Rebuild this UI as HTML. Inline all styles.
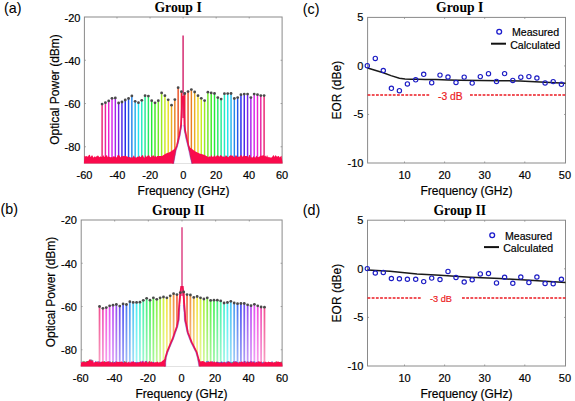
<!DOCTYPE html>
<html><head><meta charset="utf-8"><style>html,body{margin:0;padding:0;background:#fff;width:575px;height:401px;overflow:hidden}svg{display:block}</style></head>
<body><svg width="575" height="401" viewBox="0 0 575 401">
<rect width="575" height="401" fill="#fff"/>
<defs><linearGradient id="gb" x1="0" y1="0" x2="0" y2="1"><stop offset="0" stop-color="#fff" stop-opacity="0.05"/><stop offset="0.5" stop-color="#fff" stop-opacity="0.3"/><stop offset="1" stop-color="#fff" stop-opacity="0.55"/></linearGradient></defs>
<rect x="84.4" y="17" width="197.70000000000002" height="146" fill="none" stroke="#8a8a8a" stroke-width="1"/>
<line x1="116.97999999999999" y1="163" x2="116.97999999999999" y2="161.5" stroke="#8a8a8a" stroke-width="0.8"/>
<line x1="116.97999999999999" y1="17" x2="116.97999999999999" y2="18.5" stroke="#8a8a8a" stroke-width="0.8"/>
<line x1="150.04" y1="163" x2="150.04" y2="161.5" stroke="#8a8a8a" stroke-width="0.8"/>
<line x1="150.04" y1="17" x2="150.04" y2="18.5" stroke="#8a8a8a" stroke-width="0.8"/>
<line x1="183.1" y1="163" x2="183.1" y2="161.5" stroke="#8a8a8a" stroke-width="0.8"/>
<line x1="183.1" y1="17" x2="183.1" y2="18.5" stroke="#8a8a8a" stroke-width="0.8"/>
<line x1="216.16" y1="163" x2="216.16" y2="161.5" stroke="#8a8a8a" stroke-width="0.8"/>
<line x1="216.16" y1="17" x2="216.16" y2="18.5" stroke="#8a8a8a" stroke-width="0.8"/>
<line x1="249.22" y1="163" x2="249.22" y2="161.5" stroke="#8a8a8a" stroke-width="0.8"/>
<line x1="249.22" y1="17" x2="249.22" y2="18.5" stroke="#8a8a8a" stroke-width="0.8"/>
<line x1="84.4" y1="60.26" x2="85.9" y2="60.26" stroke="#8a8a8a" stroke-width="0.8"/>
<line x1="282.1" y1="60.26" x2="280.6" y2="60.26" stroke="#8a8a8a" stroke-width="0.8"/>
<line x1="84.4" y1="103.52" x2="85.9" y2="103.52" stroke="#8a8a8a" stroke-width="0.8"/>
<line x1="282.1" y1="103.52" x2="280.6" y2="103.52" stroke="#8a8a8a" stroke-width="0.8"/>
<line x1="84.4" y1="146.78" x2="85.9" y2="146.78" stroke="#8a8a8a" stroke-width="0.8"/>
<line x1="282.1" y1="146.78" x2="280.6" y2="146.78" stroke="#8a8a8a" stroke-width="0.8"/>
<line x1="102.10" y1="104.10" x2="102.10" y2="162.00" stroke="#ea2372" stroke-width="1.45"/>
<line x1="105.41" y1="102.70" x2="105.41" y2="162.00" stroke="#ea23a1" stroke-width="1.45"/>
<line x1="108.71" y1="100.90" x2="108.71" y2="162.00" stroke="#ea23d0" stroke-width="1.45"/>
<line x1="112.02" y1="98.30" x2="112.02" y2="162.00" stroke="#d623ea" stroke-width="1.45"/>
<line x1="115.33" y1="97.90" x2="115.33" y2="162.00" stroke="#a823ea" stroke-width="1.45"/>
<line x1="118.63" y1="103.00" x2="118.63" y2="162.00" stroke="#7923ea" stroke-width="1.45"/>
<line x1="121.94" y1="102.00" x2="121.94" y2="162.00" stroke="#4b23ea" stroke-width="1.45"/>
<line x1="125.24" y1="100.00" x2="125.24" y2="162.00" stroke="#2329ea" stroke-width="1.45"/>
<line x1="128.55" y1="98.50" x2="128.55" y2="162.00" stroke="#2358ea" stroke-width="1.45"/>
<line x1="131.86" y1="95.90" x2="131.86" y2="162.00" stroke="#2386ea" stroke-width="1.45"/>
<line x1="135.16" y1="101.30" x2="135.16" y2="162.00" stroke="#23b5ea" stroke-width="1.45"/>
<line x1="138.47" y1="102.70" x2="138.47" y2="162.00" stroke="#23e3ea" stroke-width="1.45"/>
<line x1="141.77" y1="100.30" x2="141.77" y2="162.00" stroke="#23eac2" stroke-width="1.45"/>
<line x1="145.08" y1="95.70" x2="145.08" y2="162.00" stroke="#23ea94" stroke-width="1.45"/>
<line x1="148.39" y1="96.10" x2="148.39" y2="162.00" stroke="#23ea65" stroke-width="1.45"/>
<line x1="151.69" y1="100.70" x2="151.69" y2="162.00" stroke="#23ea37" stroke-width="1.45"/>
<line x1="155.00" y1="102.80" x2="155.00" y2="162.00" stroke="#3dea23" stroke-width="1.45"/>
<line x1="158.31" y1="100.70" x2="158.31" y2="162.00" stroke="#6cea23" stroke-width="1.45"/>
<line x1="161.61" y1="92.90" x2="161.61" y2="162.00" stroke="#9aea23" stroke-width="1.45"/>
<line x1="164.92" y1="95.70" x2="164.92" y2="162.00" stroke="#c9ea23" stroke-width="1.45"/>
<line x1="168.22" y1="99.80" x2="168.22" y2="162.00" stroke="#eadd23" stroke-width="1.45"/>
<line x1="171.53" y1="105.20" x2="171.53" y2="162.00" stroke="#eaae23" stroke-width="1.45"/>
<line x1="174.83" y1="99.60" x2="174.83" y2="162.00" stroke="#ea8023" stroke-width="1.45"/>
<line x1="178.14" y1="87.70" x2="178.14" y2="162.00" stroke="#ea5123" stroke-width="1.45"/>
<line x1="181.45" y1="91.70" x2="181.45" y2="162.00" stroke="#ea2323" stroke-width="1.45"/>
<line x1="184.75" y1="93.50" x2="184.75" y2="162.00" stroke="#ea2323" stroke-width="1.45"/>
<line x1="188.06" y1="91.60" x2="188.06" y2="162.00" stroke="#ea5123" stroke-width="1.45"/>
<line x1="191.37" y1="89.60" x2="191.37" y2="162.00" stroke="#ea8023" stroke-width="1.45"/>
<line x1="194.67" y1="92.00" x2="194.67" y2="162.00" stroke="#eaae23" stroke-width="1.45"/>
<line x1="197.98" y1="95.70" x2="197.98" y2="162.00" stroke="#eadd23" stroke-width="1.45"/>
<line x1="201.28" y1="98.30" x2="201.28" y2="162.00" stroke="#c9ea23" stroke-width="1.45"/>
<line x1="204.59" y1="100.60" x2="204.59" y2="162.00" stroke="#9aea23" stroke-width="1.45"/>
<line x1="207.89" y1="92.20" x2="207.89" y2="162.00" stroke="#6cea23" stroke-width="1.45"/>
<line x1="211.20" y1="92.90" x2="211.20" y2="162.00" stroke="#3dea23" stroke-width="1.45"/>
<line x1="214.51" y1="93.50" x2="214.51" y2="162.00" stroke="#23ea37" stroke-width="1.45"/>
<line x1="217.81" y1="97.60" x2="217.81" y2="162.00" stroke="#23ea65" stroke-width="1.45"/>
<line x1="221.12" y1="99.10" x2="221.12" y2="162.00" stroke="#23ea94" stroke-width="1.45"/>
<line x1="224.43" y1="93.70" x2="224.43" y2="162.00" stroke="#23eac2" stroke-width="1.45"/>
<line x1="227.73" y1="93.60" x2="227.73" y2="162.00" stroke="#23e3ea" stroke-width="1.45"/>
<line x1="231.04" y1="93.50" x2="231.04" y2="162.00" stroke="#23b5ea" stroke-width="1.45"/>
<line x1="234.34" y1="98.50" x2="234.34" y2="162.00" stroke="#2386ea" stroke-width="1.45"/>
<line x1="237.65" y1="97.60" x2="237.65" y2="162.00" stroke="#2358ea" stroke-width="1.45"/>
<line x1="240.95" y1="94.70" x2="240.95" y2="162.00" stroke="#2329ea" stroke-width="1.45"/>
<line x1="244.26" y1="94.10" x2="244.26" y2="162.00" stroke="#4b23ea" stroke-width="1.45"/>
<line x1="247.57" y1="94.10" x2="247.57" y2="162.00" stroke="#7923ea" stroke-width="1.45"/>
<line x1="250.87" y1="97.60" x2="250.87" y2="162.00" stroke="#a823ea" stroke-width="1.45"/>
<line x1="254.18" y1="94.10" x2="254.18" y2="162.00" stroke="#d623ea" stroke-width="1.45"/>
<line x1="257.49" y1="94.70" x2="257.49" y2="162.00" stroke="#ea23d0" stroke-width="1.45"/>
<line x1="260.79" y1="95.60" x2="260.79" y2="162.00" stroke="#ea23a1" stroke-width="1.45"/>
<line x1="264.10" y1="95.60" x2="264.10" y2="162.00" stroke="#ea2372" stroke-width="1.45"/>
<polygon points="83.9,163.6 84.4,155.5 85.3,156.4 86.2,155.9 87.1,156.5 88.0,156.6 88.9,155.0 89.8,154.8 90.7,157.2 91.6,155.5 92.5,155.5 93.4,157.7 94.3,156.2 95.2,157.2 96.1,156.2 97.0,156.6 97.9,155.2 98.8,156.6 99.7,157.3 100.6,156.3 101.5,156.9 102.4,156.7 103.3,155.0 104.2,157.0 105.1,156.5 106.0,155.7 106.9,154.9 107.8,157.3 108.7,156.2 109.6,156.9 110.5,157.3 111.4,156.9 112.3,157.5 113.2,155.9 114.1,157.1 115.0,156.1 115.9,157.5 116.8,157.3 117.7,155.1 118.6,155.2 119.5,155.4 120.4,157.6 121.3,156.1 122.2,156.6 123.1,155.7 124.0,156.3 124.9,155.9 125.8,155.8 126.7,156.5 127.6,156.5 128.5,157.4 129.4,156.8 130.3,157.5 131.2,157.3 132.1,157.7 133.0,156.7 133.9,155.3 134.8,157.3 135.7,157.6 136.6,157.4 137.5,156.4 138.4,156.9 139.3,155.4 140.2,157.2 141.1,156.5 142.0,155.6 142.9,155.0 143.8,157.3 144.7,157.7 145.6,155.1 146.5,157.1 147.4,156.0 148.3,155.2 149.2,155.6 150.1,157.0 151.0,157.3 151.9,154.9 152.8,156.6 153.7,154.9 154.6,156.9 155.5,155.8 156.4,157.3 157.0,156.1 162.0,155.9 166.0,153.6 170.0,152.1 173.0,150.0 175.3,148.2 176.9,145.5 176.9,145.4 175.3,150.6 174.3,155.7 173.3,160.8 173.0,163.6 173.0,163.6" fill="#fa0a4c"/>
<polygon points="282.6,163.6 281.5,155.8 280.6,156.6 279.7,157.5 278.8,156.0 277.9,156.3 277.0,156.7 276.1,155.7 275.2,155.3 274.3,156.9 273.4,154.8 272.5,156.5 271.6,157.4 270.7,157.4 269.8,157.5 268.9,156.8 268.0,157.4 267.1,154.9 266.2,157.1 265.3,155.6 264.4,156.5 263.5,155.0 262.6,155.5 261.7,155.8 260.8,155.6 259.9,156.3 259.0,156.7 258.1,157.2 257.2,156.9 256.3,155.4 255.4,157.5 254.5,157.5 253.6,156.1 252.7,157.6 251.8,157.3 250.9,157.5 250.0,154.8 249.1,155.2 248.2,157.5 247.3,156.0 246.4,156.0 245.5,156.0 244.6,155.8 243.7,155.6 242.8,157.1 241.9,155.6 241.0,155.2 240.1,155.8 239.2,157.1 238.3,156.6 237.4,157.1 236.5,155.6 235.6,155.3 234.7,157.2 233.8,157.1 232.9,155.3 232.0,156.3 231.1,155.1 230.2,155.4 229.3,156.1 228.4,157.3 227.5,156.7 226.6,155.8 225.7,155.3 224.8,157.3 223.9,156.1 223.0,157.2 222.1,155.8 221.2,155.7 220.3,155.1 219.4,156.8 218.5,156.1 217.6,155.3 216.7,155.5 215.8,157.1 214.9,155.4 214.0,155.7 213.1,156.9 212.2,156.4 211.3,154.9 210.4,157.0 209.5,155.9 209.0,157.2 204.0,154.7 199.5,153.6 195.0,151.3 192.0,149.1 190.0,147.6 188.4,144.4 188.4,145.4 189.7,150.6 190.7,155.7 191.9,160.8 192.5,163.6 192.5,163.6" fill="#fa0a4c"/>
<polygon points="183.2,96.0 182.8,108.0 182.2,118.0 181.8,125.0 181.0,130.1 180.2,135.2 179.0,140.3 177.8,145.4 176.2,150.6 175.2,155.7 174.2,160.8 173.8,163.6 191.7,163.6 191.1,160.8 189.8,155.7 188.8,150.6 187.6,145.4 186.2,140.3 185.2,135.2 184.2,130.1 183.7,125.0 183.5,118.0 183.2,108.0 182.8,96.0" fill="#ffffff"/>
<line x1="183.10" y1="35.4" x2="183.10" y2="118" stroke="#d8387a" stroke-width="1.6"/>
<polyline points="182.4,96.0 181.9,108.0 181.4,118.0 181.0,125.0 180.2,130.1 179.4,135.2 178.2,140.3 176.9,145.4 175.3,150.6 174.3,155.7 173.3,160.8 173.0,163.6" fill="none" stroke="#f01050" stroke-width="1.7" stroke-linejoin="round"/>
<polyline points="183.6,96.0 184.0,108.0 184.3,118.0 184.5,125.0 185.1,130.1 186.1,135.2 187.1,140.3 188.4,145.4 189.7,150.6 190.7,155.7 191.9,160.8 192.5,163.6" fill="none" stroke="#f01050" stroke-width="1.7" stroke-linejoin="round"/>
<polyline points="181.8,125.0 181.0,130.1 180.2,135.2 179.0,140.3 177.8,145.4 176.2,150.6 175.2,155.7 174.2,160.8 173.8,163.6" fill="none" stroke="#4a48d8" stroke-width="0.6" opacity="0.6"/>
<polyline points="183.7,125.0 184.2,130.1 185.2,135.2 186.2,140.3 187.6,145.4 188.8,150.6 189.8,155.7 191.1,160.8 191.7,163.6" fill="none" stroke="#4a48d8" stroke-width="0.6" opacity="0.6"/>
<circle cx="102.10" cy="104.10" r="1.4" fill="#4a4a4a"/>
<circle cx="105.41" cy="102.70" r="1.4" fill="#4a4a4a"/>
<circle cx="108.71" cy="100.90" r="1.4" fill="#4a4a4a"/>
<circle cx="112.02" cy="98.30" r="1.4" fill="#4a4a4a"/>
<circle cx="115.33" cy="97.90" r="1.4" fill="#4a4a4a"/>
<circle cx="118.63" cy="103.00" r="1.4" fill="#4a4a4a"/>
<circle cx="121.94" cy="102.00" r="1.4" fill="#4a4a4a"/>
<circle cx="125.24" cy="100.00" r="1.4" fill="#4a4a4a"/>
<circle cx="128.55" cy="98.50" r="1.4" fill="#4a4a4a"/>
<circle cx="131.86" cy="95.90" r="1.4" fill="#4a4a4a"/>
<circle cx="135.16" cy="101.30" r="1.4" fill="#4a4a4a"/>
<circle cx="138.47" cy="102.70" r="1.4" fill="#4a4a4a"/>
<circle cx="141.77" cy="100.30" r="1.4" fill="#4a4a4a"/>
<circle cx="145.08" cy="95.70" r="1.4" fill="#4a4a4a"/>
<circle cx="148.39" cy="96.10" r="1.4" fill="#4a4a4a"/>
<circle cx="151.69" cy="100.70" r="1.4" fill="#4a4a4a"/>
<circle cx="155.00" cy="102.80" r="1.4" fill="#4a4a4a"/>
<circle cx="158.31" cy="100.70" r="1.4" fill="#4a4a4a"/>
<circle cx="161.61" cy="92.90" r="1.4" fill="#4a4a4a"/>
<circle cx="164.92" cy="95.70" r="1.4" fill="#4a4a4a"/>
<circle cx="168.22" cy="99.80" r="1.4" fill="#4a4a4a"/>
<circle cx="171.53" cy="105.20" r="1.4" fill="#4a4a4a"/>
<circle cx="174.83" cy="99.60" r="1.4" fill="#4a4a4a"/>
<circle cx="178.14" cy="87.70" r="1.4" fill="#4a4a4a"/>
<circle cx="181.45" cy="91.70" r="1.4" fill="#4a4a4a"/>
<circle cx="184.75" cy="93.50" r="1.4" fill="#4a4a4a"/>
<circle cx="188.06" cy="91.60" r="1.4" fill="#4a4a4a"/>
<circle cx="191.37" cy="89.60" r="1.4" fill="#4a4a4a"/>
<circle cx="194.67" cy="92.00" r="1.4" fill="#4a4a4a"/>
<circle cx="197.98" cy="95.70" r="1.4" fill="#4a4a4a"/>
<circle cx="201.28" cy="98.30" r="1.4" fill="#4a4a4a"/>
<circle cx="204.59" cy="100.60" r="1.4" fill="#4a4a4a"/>
<circle cx="207.89" cy="92.20" r="1.4" fill="#4a4a4a"/>
<circle cx="211.20" cy="92.90" r="1.4" fill="#4a4a4a"/>
<circle cx="214.51" cy="93.50" r="1.4" fill="#4a4a4a"/>
<circle cx="217.81" cy="97.60" r="1.4" fill="#4a4a4a"/>
<circle cx="221.12" cy="99.10" r="1.4" fill="#4a4a4a"/>
<circle cx="224.43" cy="93.70" r="1.4" fill="#4a4a4a"/>
<circle cx="227.73" cy="93.60" r="1.4" fill="#4a4a4a"/>
<circle cx="231.04" cy="93.50" r="1.4" fill="#4a4a4a"/>
<circle cx="234.34" cy="98.50" r="1.4" fill="#4a4a4a"/>
<circle cx="237.65" cy="97.60" r="1.4" fill="#4a4a4a"/>
<circle cx="240.95" cy="94.70" r="1.4" fill="#4a4a4a"/>
<circle cx="244.26" cy="94.10" r="1.4" fill="#4a4a4a"/>
<circle cx="247.57" cy="94.10" r="1.4" fill="#4a4a4a"/>
<circle cx="250.87" cy="97.60" r="1.4" fill="#4a4a4a"/>
<circle cx="254.18" cy="94.10" r="1.4" fill="#4a4a4a"/>
<circle cx="257.49" cy="94.70" r="1.4" fill="#4a4a4a"/>
<circle cx="260.79" cy="95.60" r="1.4" fill="#4a4a4a"/>
<circle cx="264.10" cy="95.60" r="1.4" fill="#4a4a4a"/>
<rect x="81.2" y="220" width="200.90000000000003" height="146" fill="none" stroke="#8a8a8a" stroke-width="1"/>
<line x1="114.67999999999999" y1="366" x2="114.67999999999999" y2="364.5" stroke="#8a8a8a" stroke-width="0.8"/>
<line x1="114.67999999999999" y1="220" x2="114.67999999999999" y2="221.5" stroke="#8a8a8a" stroke-width="0.8"/>
<line x1="148.34" y1="366" x2="148.34" y2="364.5" stroke="#8a8a8a" stroke-width="0.8"/>
<line x1="148.34" y1="220" x2="148.34" y2="221.5" stroke="#8a8a8a" stroke-width="0.8"/>
<line x1="182.0" y1="366" x2="182.0" y2="364.5" stroke="#8a8a8a" stroke-width="0.8"/>
<line x1="182.0" y1="220" x2="182.0" y2="221.5" stroke="#8a8a8a" stroke-width="0.8"/>
<line x1="215.66" y1="366" x2="215.66" y2="364.5" stroke="#8a8a8a" stroke-width="0.8"/>
<line x1="215.66" y1="220" x2="215.66" y2="221.5" stroke="#8a8a8a" stroke-width="0.8"/>
<line x1="249.32" y1="366" x2="249.32" y2="364.5" stroke="#8a8a8a" stroke-width="0.8"/>
<line x1="249.32" y1="220" x2="249.32" y2="221.5" stroke="#8a8a8a" stroke-width="0.8"/>
<line x1="81.2" y1="263.26" x2="82.7" y2="263.26" stroke="#8a8a8a" stroke-width="0.8"/>
<line x1="282.1" y1="263.26" x2="280.6" y2="263.26" stroke="#8a8a8a" stroke-width="0.8"/>
<line x1="81.2" y1="306.52" x2="82.7" y2="306.52" stroke="#8a8a8a" stroke-width="0.8"/>
<line x1="282.1" y1="306.52" x2="280.6" y2="306.52" stroke="#8a8a8a" stroke-width="0.8"/>
<line x1="81.2" y1="349.78" x2="82.7" y2="349.78" stroke="#8a8a8a" stroke-width="0.8"/>
<line x1="282.1" y1="349.78" x2="280.6" y2="349.78" stroke="#8a8a8a" stroke-width="0.8"/>
<line x1="99.53" y1="306.50" x2="99.53" y2="365.00" stroke="#ef2f7c" stroke-width="1.75"/>
<line x1="102.90" y1="308.30" x2="102.90" y2="365.00" stroke="#ef2fa9" stroke-width="1.75"/>
<line x1="106.27" y1="307.60" x2="106.27" y2="365.00" stroke="#ef2fd6" stroke-width="1.75"/>
<line x1="109.63" y1="305.80" x2="109.63" y2="365.00" stroke="#dc2fef" stroke-width="1.75"/>
<line x1="113.00" y1="305.20" x2="113.00" y2="365.00" stroke="#af2fef" stroke-width="1.75"/>
<line x1="116.36" y1="304.50" x2="116.36" y2="365.00" stroke="#832fef" stroke-width="1.75"/>
<line x1="119.73" y1="306.10" x2="119.73" y2="365.00" stroke="#562fef" stroke-width="1.75"/>
<line x1="123.09" y1="303.90" x2="123.09" y2="365.00" stroke="#2f36ef" stroke-width="1.75"/>
<line x1="126.46" y1="304.50" x2="126.46" y2="365.00" stroke="#2f63ef" stroke-width="1.75"/>
<line x1="129.83" y1="301.70" x2="129.83" y2="365.00" stroke="#2f8fef" stroke-width="1.75"/>
<line x1="133.19" y1="302.40" x2="133.19" y2="365.00" stroke="#2fbcef" stroke-width="1.75"/>
<line x1="136.56" y1="302.40" x2="136.56" y2="365.00" stroke="#2fe9ef" stroke-width="1.75"/>
<line x1="139.93" y1="302.20" x2="139.93" y2="365.00" stroke="#2fefc9" stroke-width="1.75"/>
<line x1="143.29" y1="300.30" x2="143.29" y2="365.00" stroke="#2fef9c" stroke-width="1.75"/>
<line x1="146.66" y1="298.30" x2="146.66" y2="365.00" stroke="#2fef6f" stroke-width="1.75"/>
<line x1="150.02" y1="300.20" x2="150.02" y2="365.00" stroke="#2fef43" stroke-width="1.75"/>
<line x1="153.39" y1="297.80" x2="153.39" y2="365.00" stroke="#49ef2f" stroke-width="1.75"/>
<line x1="156.75" y1="299.30" x2="156.75" y2="365.00" stroke="#76ef2f" stroke-width="1.75"/>
<line x1="160.12" y1="297.80" x2="160.12" y2="365.00" stroke="#a2ef2f" stroke-width="1.75"/>
<line x1="163.49" y1="297.00" x2="163.49" y2="365.00" stroke="#cfef2f" stroke-width="1.75"/>
<line x1="166.85" y1="297.80" x2="166.85" y2="365.00" stroke="#efe22f" stroke-width="1.75"/>
<line x1="170.22" y1="295.80" x2="170.22" y2="365.00" stroke="#efb62f" stroke-width="1.75"/>
<line x1="173.59" y1="293.70" x2="173.59" y2="365.00" stroke="#ef892f" stroke-width="1.75"/>
<line x1="176.95" y1="294.60" x2="176.95" y2="365.00" stroke="#ef5c2f" stroke-width="1.75"/>
<line x1="180.32" y1="292.60" x2="180.32" y2="365.00" stroke="#ef2f2f" stroke-width="1.75"/>
<line x1="183.68" y1="292.00" x2="183.68" y2="365.00" stroke="#ef2f2f" stroke-width="1.75"/>
<line x1="187.05" y1="294.60" x2="187.05" y2="365.00" stroke="#ef5c2f" stroke-width="1.75"/>
<line x1="190.41" y1="295.00" x2="190.41" y2="365.00" stroke="#ef892f" stroke-width="1.75"/>
<line x1="193.78" y1="297.40" x2="193.78" y2="365.00" stroke="#efb62f" stroke-width="1.75"/>
<line x1="197.15" y1="296.50" x2="197.15" y2="365.00" stroke="#efe22f" stroke-width="1.75"/>
<line x1="200.51" y1="297.80" x2="200.51" y2="365.00" stroke="#cfef2f" stroke-width="1.75"/>
<line x1="203.88" y1="299.00" x2="203.88" y2="365.00" stroke="#a2ef2f" stroke-width="1.75"/>
<line x1="207.25" y1="297.80" x2="207.25" y2="365.00" stroke="#76ef2f" stroke-width="1.75"/>
<line x1="210.61" y1="300.40" x2="210.61" y2="365.00" stroke="#49ef2f" stroke-width="1.75"/>
<line x1="213.98" y1="300.20" x2="213.98" y2="365.00" stroke="#2fef43" stroke-width="1.75"/>
<line x1="217.34" y1="300.20" x2="217.34" y2="365.00" stroke="#2fef6f" stroke-width="1.75"/>
<line x1="220.71" y1="300.90" x2="220.71" y2="365.00" stroke="#2fef9c" stroke-width="1.75"/>
<line x1="224.07" y1="303.00" x2="224.07" y2="365.00" stroke="#2fefc9" stroke-width="1.75"/>
<line x1="227.44" y1="302.50" x2="227.44" y2="365.00" stroke="#2fe9ef" stroke-width="1.75"/>
<line x1="230.81" y1="301.30" x2="230.81" y2="365.00" stroke="#2fbcef" stroke-width="1.75"/>
<line x1="234.17" y1="303.00" x2="234.17" y2="365.00" stroke="#2f8fef" stroke-width="1.75"/>
<line x1="237.54" y1="303.70" x2="237.54" y2="365.00" stroke="#2f63ef" stroke-width="1.75"/>
<line x1="240.91" y1="303.50" x2="240.91" y2="365.00" stroke="#2f36ef" stroke-width="1.75"/>
<line x1="244.27" y1="303.50" x2="244.27" y2="365.00" stroke="#562fef" stroke-width="1.75"/>
<line x1="247.64" y1="304.80" x2="247.64" y2="365.00" stroke="#832fef" stroke-width="1.75"/>
<line x1="251.00" y1="305.70" x2="251.00" y2="365.00" stroke="#af2fef" stroke-width="1.75"/>
<line x1="254.37" y1="304.30" x2="254.37" y2="365.00" stroke="#dc2fef" stroke-width="1.75"/>
<line x1="257.74" y1="305.80" x2="257.74" y2="365.00" stroke="#ef2fd6" stroke-width="1.75"/>
<line x1="261.10" y1="307.00" x2="261.10" y2="365.00" stroke="#ef2fa9" stroke-width="1.75"/>
<line x1="264.47" y1="307.20" x2="264.47" y2="365.00" stroke="#ef2f7c" stroke-width="1.75"/>
<rect x="82.2" y="290" width="198.90000000000003" height="76" fill="url(#gb)"/>
<polygon points="80.7,366.4 81.2,362.0 82.1,362.3 83.0,361.2 83.9,361.5 84.8,361.5 85.7,361.9 86.6,361.3 87.5,360.9 88.4,360.9 89.3,359.6 90.2,359.6 91.1,359.8 92.0,360.1 92.9,360.5 93.8,362.4 94.7,362.3 95.6,361.2 96.5,361.8 97.4,361.6 98.3,361.6 99.2,361.6 100.1,362.0 101.0,361.9 101.9,361.6 102.8,361.4 103.7,361.6 104.6,361.3 105.5,361.9 106.4,362.1 107.3,361.6 108.2,361.2 109.1,361.4 110.0,361.6 110.9,362.0 111.8,362.2 112.7,361.6 113.6,362.3 114.5,362.0 115.4,361.7 116.3,361.6 117.2,361.8 118.1,362.1 119.0,361.7 119.9,362.1 120.8,361.8 121.7,361.5 122.6,361.9 123.5,362.1 124.4,361.2 125.3,361.7 126.2,361.7 127.1,362.4 128.0,362.4 128.9,361.6 129.8,362.4 130.7,362.2 131.6,361.5 132.5,361.8 133.4,361.3 134.3,362.3 135.2,362.1 136.1,362.4 137.0,362.2 137.9,362.1 138.8,362.2 139.7,361.9 140.6,361.2 141.5,361.9 142.4,361.1 143.3,361.3 144.2,362.2 145.1,361.2 146.0,361.2 146.9,361.2 147.8,362.4 148.7,361.4 149.6,361.1 150.5,362.3 151.4,361.3 152.3,362.3 153.2,362.1 154.1,362.3 155.0,362.5 155.9,361.9 156.8,362.3 157.7,361.2 158.0,362.6 161.0,362.1 163.5,359.9 165.5,358.2 165.5,357.4 164.9,362.4 164.9,366.4 164.9,366.4" fill="#fa0a4c"/>
<polygon points="282.6,366.4 281.9,361.4 281.0,361.9 280.1,362.1 279.2,362.1 278.3,361.6 277.4,361.8 276.5,361.3 275.6,361.9 274.7,362.1 273.8,362.5 272.9,362.2 272.0,361.5 271.1,362.3 270.2,362.0 269.3,362.1 268.4,361.5 267.5,362.2 266.6,362.2 265.7,361.6 264.8,362.5 263.9,361.2 263.0,362.4 262.1,362.4 261.2,361.3 260.3,362.1 259.4,361.5 258.5,361.3 257.6,361.9 256.7,361.7 255.8,362.5 254.9,361.9 254.0,361.4 253.1,361.8 252.2,361.7 251.3,361.6 250.4,361.1 249.5,362.1 248.6,361.9 247.7,361.6 246.8,361.5 245.9,362.3 245.0,361.2 244.1,361.2 243.2,362.1 242.3,361.7 241.4,361.6 240.5,362.3 239.6,361.5 238.7,362.4 237.8,362.3 236.9,362.1 236.0,361.4 235.1,361.5 234.2,361.4 233.3,361.4 232.4,362.3 231.5,362.5 230.6,362.1 229.7,362.1 228.8,361.4 227.9,361.4 227.0,361.8 226.1,362.5 225.2,362.2 224.3,361.7 223.4,362.3 222.5,362.1 221.6,361.8 220.7,361.9 219.8,362.3 218.9,362.3 218.0,361.8 217.1,362.0 216.2,361.8 215.3,362.5 214.4,361.3 213.5,362.2 212.6,361.6 211.7,361.6 210.8,361.3 209.9,361.7 209.0,361.8 208.1,361.1 207.2,361.4 206.3,361.5 206.0,362.6 203.0,361.0 200.5,361.4 198.1,356.7 198.1,357.4 199.1,362.4 199.8,366.4 199.8,366.4" fill="#fa0a4c"/>
<rect x="80.7" y="361.7" width="1.1" height="1.1" fill="#e040c0" opacity="0.75"/>
<rect x="82.5" y="360.9" width="1.1" height="1.1" fill="#40c070" opacity="0.75"/>
<rect x="84.3" y="361.2" width="1.1" height="1.1" fill="#40c070" opacity="0.75"/>
<rect x="86.1" y="361.0" width="1.1" height="1.1" fill="#40c070" opacity="0.75"/>
<rect x="90.6" y="359.5" width="1.1" height="1.1" fill="#4090f0" opacity="0.75"/>
<rect x="91.5" y="359.8" width="1.1" height="1.1" fill="#40c070" opacity="0.75"/>
<rect x="92.4" y="360.2" width="1.1" height="1.1" fill="#e040c0" opacity="0.75"/>
<rect x="93.3" y="362.1" width="1.1" height="1.1" fill="#e040c0" opacity="0.75"/>
<rect x="95.1" y="360.9" width="1.1" height="1.1" fill="#4090f0" opacity="0.75"/>
<rect x="97.8" y="361.3" width="1.1" height="1.1" fill="#4090f0" opacity="0.75"/>
<rect x="99.6" y="361.7" width="1.1" height="1.1" fill="#9040e0" opacity="0.75"/>
<rect x="104.1" y="361.0" width="1.1" height="1.1" fill="#40c070" opacity="0.75"/>
<rect x="108.6" y="361.1" width="1.1" height="1.1" fill="#e040c0" opacity="0.75"/>
<rect x="109.5" y="361.3" width="1.1" height="1.1" fill="#4090f0" opacity="0.75"/>
<rect x="112.2" y="361.3" width="1.1" height="1.1" fill="#40c070" opacity="0.75"/>
<rect x="113.1" y="362.0" width="1.1" height="1.1" fill="#9040e0" opacity="0.75"/>
<rect x="114.9" y="361.4" width="1.1" height="1.1" fill="#4090f0" opacity="0.75"/>
<rect x="123.0" y="361.8" width="1.1" height="1.1" fill="#4090f0" opacity="0.75"/>
<rect x="123.9" y="360.9" width="1.1" height="1.1" fill="#40c070" opacity="0.75"/>
<rect x="125.7" y="361.4" width="1.1" height="1.1" fill="#40c070" opacity="0.75"/>
<rect x="129.3" y="362.1" width="1.1" height="1.1" fill="#e040c0" opacity="0.75"/>
<rect x="130.2" y="361.9" width="1.1" height="1.1" fill="#e040c0" opacity="0.75"/>
<rect x="132.9" y="361.0" width="1.1" height="1.1" fill="#9040e0" opacity="0.75"/>
<rect x="135.6" y="362.1" width="1.1" height="1.1" fill="#3a48e0" opacity="0.75"/>
<rect x="137.4" y="361.8" width="1.1" height="1.1" fill="#9040e0" opacity="0.75"/>
<rect x="141.0" y="361.6" width="1.1" height="1.1" fill="#9040e0" opacity="0.75"/>
<rect x="141.9" y="360.8" width="1.1" height="1.1" fill="#9040e0" opacity="0.75"/>
<rect x="143.7" y="361.9" width="1.1" height="1.1" fill="#e040c0" opacity="0.75"/>
<rect x="145.5" y="360.9" width="1.1" height="1.1" fill="#3a48e0" opacity="0.75"/>
<rect x="147.3" y="362.1" width="1.1" height="1.1" fill="#40c070" opacity="0.75"/>
<rect x="152.7" y="361.8" width="1.1" height="1.1" fill="#3a48e0" opacity="0.75"/>
<rect x="205.8" y="361.2" width="1.1" height="1.1" fill="#4090f0" opacity="0.75"/>
<rect x="206.7" y="361.1" width="1.1" height="1.1" fill="#4090f0" opacity="0.75"/>
<rect x="207.6" y="360.8" width="1.1" height="1.1" fill="#4090f0" opacity="0.75"/>
<rect x="212.1" y="361.3" width="1.1" height="1.1" fill="#9040e0" opacity="0.75"/>
<rect x="216.6" y="361.7" width="1.1" height="1.1" fill="#3a48e0" opacity="0.75"/>
<rect x="218.4" y="362.0" width="1.1" height="1.1" fill="#9040e0" opacity="0.75"/>
<rect x="219.3" y="362.0" width="1.1" height="1.1" fill="#4090f0" opacity="0.75"/>
<rect x="221.1" y="361.5" width="1.1" height="1.1" fill="#3a48e0" opacity="0.75"/>
<rect x="222.0" y="361.8" width="1.1" height="1.1" fill="#4090f0" opacity="0.75"/>
<rect x="224.7" y="361.9" width="1.1" height="1.1" fill="#e040c0" opacity="0.75"/>
<rect x="225.6" y="362.2" width="1.1" height="1.1" fill="#4090f0" opacity="0.75"/>
<rect x="226.5" y="361.5" width="1.1" height="1.1" fill="#3a48e0" opacity="0.75"/>
<rect x="228.3" y="361.1" width="1.1" height="1.1" fill="#3a48e0" opacity="0.75"/>
<rect x="230.1" y="361.8" width="1.1" height="1.1" fill="#4090f0" opacity="0.75"/>
<rect x="231.0" y="362.2" width="1.1" height="1.1" fill="#4090f0" opacity="0.75"/>
<rect x="231.9" y="362.0" width="1.1" height="1.1" fill="#40c070" opacity="0.75"/>
<rect x="232.8" y="361.1" width="1.1" height="1.1" fill="#4090f0" opacity="0.75"/>
<rect x="234.6" y="361.2" width="1.1" height="1.1" fill="#e040c0" opacity="0.75"/>
<rect x="235.5" y="361.1" width="1.1" height="1.1" fill="#3a48e0" opacity="0.75"/>
<rect x="238.2" y="362.1" width="1.1" height="1.1" fill="#4090f0" opacity="0.75"/>
<rect x="242.7" y="361.8" width="1.1" height="1.1" fill="#9040e0" opacity="0.75"/>
<rect x="244.5" y="360.9" width="1.1" height="1.1" fill="#3a48e0" opacity="0.75"/>
<rect x="245.4" y="362.0" width="1.1" height="1.1" fill="#4090f0" opacity="0.75"/>
<rect x="248.1" y="361.6" width="1.1" height="1.1" fill="#3a48e0" opacity="0.75"/>
<rect x="249.9" y="360.8" width="1.1" height="1.1" fill="#e040c0" opacity="0.75"/>
<rect x="250.8" y="361.3" width="1.1" height="1.1" fill="#3a48e0" opacity="0.75"/>
<rect x="251.7" y="361.4" width="1.1" height="1.1" fill="#e040c0" opacity="0.75"/>
<rect x="253.5" y="361.1" width="1.1" height="1.1" fill="#4090f0" opacity="0.75"/>
<rect x="254.4" y="361.6" width="1.1" height="1.1" fill="#4090f0" opacity="0.75"/>
<rect x="257.1" y="361.6" width="1.1" height="1.1" fill="#9040e0" opacity="0.75"/>
<rect x="261.6" y="362.1" width="1.1" height="1.1" fill="#4090f0" opacity="0.75"/>
<rect x="262.5" y="362.1" width="1.1" height="1.1" fill="#4090f0" opacity="0.75"/>
<rect x="271.5" y="361.2" width="1.1" height="1.1" fill="#4090f0" opacity="0.75"/>
<rect x="275.1" y="361.6" width="1.1" height="1.1" fill="#40c070" opacity="0.75"/>
<rect x="280.5" y="361.6" width="1.1" height="1.1" fill="#40c070" opacity="0.75"/>
<polygon points="182.2,286.0 181.4,292.0 180.7,298.0 180.1,305.0 179.6,312.4 179.2,320.0 177.9,326.3 175.7,332.5 173.6,338.7 172.0,342.4 169.9,347.4 167.9,352.4 166.4,357.4 165.8,362.4 165.8,366.4 198.9,366.4 198.2,362.4 197.2,357.4 195.8,352.4 193.3,347.4 190.8,342.4 189.3,338.7 187.0,332.5 185.7,326.3 184.4,320.0 184.0,312.4 183.4,305.0 182.9,298.0 182.4,292.0 181.8,286.0" fill="#ffffff"/>
<line x1="182.00" y1="227.2" x2="182.00" y2="296" stroke="#e0508c" stroke-width="1.6"/>
<polyline points="181.3,286.0 180.5,292.0 179.8,298.0 179.2,305.0 178.7,312.4 178.3,320.0 177.0,326.3 174.8,332.5 172.7,338.7 171.1,342.4 169.0,347.4 167.0,352.4 165.5,357.4 164.9,362.4 164.9,366.4" fill="none" stroke="#f01050" stroke-width="1.8" stroke-linejoin="round"/>
<polyline points="182.7,286.0 183.3,292.0 183.8,298.0 184.3,305.0 184.9,312.4 185.3,320.0 186.6,326.3 187.9,332.5 190.2,338.7 191.7,342.4 194.2,347.4 196.7,352.4 198.1,357.4 199.1,362.4 199.8,366.4" fill="none" stroke="#f01050" stroke-width="1.8" stroke-linejoin="round"/>
<polyline points="180.1,305.0 179.6,312.4 179.2,320.0 177.9,326.3 175.7,332.5 173.6,338.7 172.0,342.4 169.9,347.4 167.9,352.4 166.4,357.4 165.8,362.4 165.8,366.4" fill="none" stroke="#4a48d8" stroke-width="0.6" opacity="0.6"/>
<polyline points="183.4,305.0 184.0,312.4 184.4,320.0 185.7,326.3 187.0,332.5 189.3,338.7 190.8,342.4 193.3,347.4 195.8,352.4 197.2,357.4 198.2,362.4 198.9,366.4" fill="none" stroke="#4a48d8" stroke-width="0.6" opacity="0.6"/>
<circle cx="99.53" cy="306.50" r="1.4" fill="#4a4a4a"/>
<circle cx="102.90" cy="308.30" r="1.4" fill="#4a4a4a"/>
<circle cx="106.27" cy="307.60" r="1.4" fill="#4a4a4a"/>
<circle cx="109.63" cy="305.80" r="1.4" fill="#4a4a4a"/>
<circle cx="113.00" cy="305.20" r="1.4" fill="#4a4a4a"/>
<circle cx="116.36" cy="304.50" r="1.4" fill="#4a4a4a"/>
<circle cx="119.73" cy="306.10" r="1.4" fill="#4a4a4a"/>
<circle cx="123.09" cy="303.90" r="1.4" fill="#4a4a4a"/>
<circle cx="126.46" cy="304.50" r="1.4" fill="#4a4a4a"/>
<circle cx="129.83" cy="301.70" r="1.4" fill="#4a4a4a"/>
<circle cx="133.19" cy="302.40" r="1.4" fill="#4a4a4a"/>
<circle cx="136.56" cy="302.40" r="1.4" fill="#4a4a4a"/>
<circle cx="139.93" cy="302.20" r="1.4" fill="#4a4a4a"/>
<circle cx="143.29" cy="300.30" r="1.4" fill="#4a4a4a"/>
<circle cx="146.66" cy="298.30" r="1.4" fill="#4a4a4a"/>
<circle cx="150.02" cy="300.20" r="1.4" fill="#4a4a4a"/>
<circle cx="153.39" cy="297.80" r="1.4" fill="#4a4a4a"/>
<circle cx="156.75" cy="299.30" r="1.4" fill="#4a4a4a"/>
<circle cx="160.12" cy="297.80" r="1.4" fill="#4a4a4a"/>
<circle cx="163.49" cy="297.00" r="1.4" fill="#4a4a4a"/>
<circle cx="166.85" cy="297.80" r="1.4" fill="#4a4a4a"/>
<circle cx="170.22" cy="295.80" r="1.4" fill="#4a4a4a"/>
<circle cx="173.59" cy="293.70" r="1.4" fill="#4a4a4a"/>
<circle cx="176.95" cy="294.60" r="1.4" fill="#4a4a4a"/>
<circle cx="180.32" cy="292.60" r="1.4" fill="#4a4a4a"/>
<circle cx="183.68" cy="292.00" r="1.4" fill="#4a4a4a"/>
<circle cx="187.05" cy="294.60" r="1.4" fill="#4a4a4a"/>
<circle cx="190.41" cy="295.00" r="1.4" fill="#4a4a4a"/>
<circle cx="193.78" cy="297.40" r="1.4" fill="#4a4a4a"/>
<circle cx="197.15" cy="296.50" r="1.4" fill="#4a4a4a"/>
<circle cx="200.51" cy="297.80" r="1.4" fill="#4a4a4a"/>
<circle cx="203.88" cy="299.00" r="1.4" fill="#4a4a4a"/>
<circle cx="207.25" cy="297.80" r="1.4" fill="#4a4a4a"/>
<circle cx="210.61" cy="300.40" r="1.4" fill="#4a4a4a"/>
<circle cx="213.98" cy="300.20" r="1.4" fill="#4a4a4a"/>
<circle cx="217.34" cy="300.20" r="1.4" fill="#4a4a4a"/>
<circle cx="220.71" cy="300.90" r="1.4" fill="#4a4a4a"/>
<circle cx="224.07" cy="303.00" r="1.4" fill="#4a4a4a"/>
<circle cx="227.44" cy="302.50" r="1.4" fill="#4a4a4a"/>
<circle cx="230.81" cy="301.30" r="1.4" fill="#4a4a4a"/>
<circle cx="234.17" cy="303.00" r="1.4" fill="#4a4a4a"/>
<circle cx="237.54" cy="303.70" r="1.4" fill="#4a4a4a"/>
<circle cx="240.91" cy="303.50" r="1.4" fill="#4a4a4a"/>
<circle cx="244.27" cy="303.50" r="1.4" fill="#4a4a4a"/>
<circle cx="247.64" cy="304.80" r="1.4" fill="#4a4a4a"/>
<circle cx="251.00" cy="305.70" r="1.4" fill="#4a4a4a"/>
<circle cx="254.37" cy="304.30" r="1.4" fill="#4a4a4a"/>
<circle cx="257.74" cy="305.80" r="1.4" fill="#4a4a4a"/>
<circle cx="261.10" cy="307.00" r="1.4" fill="#4a4a4a"/>
<circle cx="264.47" cy="307.20" r="1.4" fill="#4a4a4a"/>
<text x="80.5" y="21.599999999999998" font-size="11" text-anchor="end" font-family="Liberation Sans, sans-serif"  stroke="#000" stroke-width="0.18">-20</text>
<text x="80.5" y="64.8" font-size="11" text-anchor="end" font-family="Liberation Sans, sans-serif"  stroke="#000" stroke-width="0.18">-40</text>
<text x="80.5" y="108.0" font-size="11" text-anchor="end" font-family="Liberation Sans, sans-serif"  stroke="#000" stroke-width="0.18">-60</text>
<text x="80.5" y="151.3" font-size="11" text-anchor="end" font-family="Liberation Sans, sans-serif"  stroke="#000" stroke-width="0.18">-80</text>
<text x="84.42999999999999" y="179" font-size="11" text-anchor="middle" font-family="Liberation Sans, sans-serif"  stroke="#000" stroke-width="0.18">-60</text>
<text x="117.37" y="179" font-size="11" text-anchor="middle" font-family="Liberation Sans, sans-serif"  stroke="#000" stroke-width="0.18">-40</text>
<text x="150.31" y="179" font-size="11" text-anchor="middle" font-family="Liberation Sans, sans-serif"  stroke="#000" stroke-width="0.18">-20</text>
<text x="183.25" y="179" font-size="11" text-anchor="middle" font-family="Liberation Sans, sans-serif"  stroke="#000" stroke-width="0.18">0</text>
<text x="216.19" y="179" font-size="11" text-anchor="middle" font-family="Liberation Sans, sans-serif"  stroke="#000" stroke-width="0.18">20</text>
<text x="249.13" y="179" font-size="11" text-anchor="middle" font-family="Liberation Sans, sans-serif"  stroke="#000" stroke-width="0.18">40</text>
<text x="282.07" y="179" font-size="11" text-anchor="middle" font-family="Liberation Sans, sans-serif"  stroke="#000" stroke-width="0.18">60</text>
<text x="183.6" y="194.8" font-size="12" text-anchor="middle" font-family="Liberation Sans, sans-serif"  stroke="#000" stroke-width="0.18">Frequency (GHz)</text>
<text x="59.3" y="89.5" font-size="12" text-anchor="middle" font-family="Liberation Sans, sans-serif" transform="rotate(-90 59.3 89.5)" stroke="#000" stroke-width="0.18">Optical Power (dBm)</text>
<text x="178.1" y="12.4" font-size="13.7" text-anchor="middle" font-family="Liberation Serif, serif" font-weight="bold">Group I</text>
<text x="4.0" y="13.3" font-size="14.3" text-anchor="start" font-family="Liberation Sans, sans-serif" stroke="#000" stroke-width="0.05">(a)</text>
<text x="77" y="224.4" font-size="11" text-anchor="end" font-family="Liberation Sans, sans-serif"  stroke="#000" stroke-width="0.18">-20</text>
<text x="77" y="267.5" font-size="11" text-anchor="end" font-family="Liberation Sans, sans-serif"  stroke="#000" stroke-width="0.18">-40</text>
<text x="77" y="310.7" font-size="11" text-anchor="end" font-family="Liberation Sans, sans-serif"  stroke="#000" stroke-width="0.18">-60</text>
<text x="77" y="354.0" font-size="11" text-anchor="end" font-family="Liberation Sans, sans-serif"  stroke="#000" stroke-width="0.18">-80</text>
<text x="80.77" y="382" font-size="11" text-anchor="middle" font-family="Liberation Sans, sans-serif"  stroke="#000" stroke-width="0.18">-60</text>
<text x="114.32999999999998" y="382" font-size="11" text-anchor="middle" font-family="Liberation Sans, sans-serif"  stroke="#000" stroke-width="0.18">-40</text>
<text x="147.89" y="382" font-size="11" text-anchor="middle" font-family="Liberation Sans, sans-serif"  stroke="#000" stroke-width="0.18">-20</text>
<text x="181.45" y="382" font-size="11" text-anchor="middle" font-family="Liberation Sans, sans-serif"  stroke="#000" stroke-width="0.18">0</text>
<text x="215.01" y="382" font-size="11" text-anchor="middle" font-family="Liberation Sans, sans-serif"  stroke="#000" stroke-width="0.18">20</text>
<text x="248.57" y="382" font-size="11" text-anchor="middle" font-family="Liberation Sans, sans-serif"  stroke="#000" stroke-width="0.18">40</text>
<text x="282.13" y="382" font-size="11" text-anchor="middle" font-family="Liberation Sans, sans-serif"  stroke="#000" stroke-width="0.18">60</text>
<text x="181.5" y="397.8" font-size="12" text-anchor="middle" font-family="Liberation Sans, sans-serif"  stroke="#000" stroke-width="0.18">Frequency (GHz)</text>
<text x="55.2" y="292.0" font-size="12" text-anchor="middle" font-family="Liberation Sans, sans-serif" transform="rotate(-90 55.2 292.0)" stroke="#000" stroke-width="0.18">Optical Power (dBm)</text>
<text x="178.35" y="215.0" font-size="13.7" text-anchor="middle" font-family="Liberation Serif, serif" font-weight="bold">Group II</text>
<text x="0.6" y="213.6" font-size="14.3" text-anchor="start" font-family="Liberation Sans, sans-serif" stroke="#000" stroke-width="0.05">(b)</text>
<rect x="367.6" y="17.4" width="197.89999999999998" height="145.6" fill="none" stroke="#8a8a8a" stroke-width="1"/>
<line x1="404.5" y1="163" x2="404.5" y2="161.5" stroke="#8a8a8a" stroke-width="0.8"/>
<line x1="404.5" y1="17.4" x2="404.5" y2="18.9" stroke="#8a8a8a" stroke-width="0.8"/>
<line x1="444.6" y1="163" x2="444.6" y2="161.5" stroke="#8a8a8a" stroke-width="0.8"/>
<line x1="444.6" y1="17.4" x2="444.6" y2="18.9" stroke="#8a8a8a" stroke-width="0.8"/>
<line x1="484.7" y1="163" x2="484.7" y2="161.5" stroke="#8a8a8a" stroke-width="0.8"/>
<line x1="484.7" y1="17.4" x2="484.7" y2="18.9" stroke="#8a8a8a" stroke-width="0.8"/>
<line x1="524.8" y1="163" x2="524.8" y2="161.5" stroke="#8a8a8a" stroke-width="0.8"/>
<line x1="524.8" y1="17.4" x2="524.8" y2="18.9" stroke="#8a8a8a" stroke-width="0.8"/>
<line x1="367.6" y1="65.93333333333334" x2="369.1" y2="65.93333333333334" stroke="#8a8a8a" stroke-width="0.8"/>
<line x1="565.5" y1="65.93333333333334" x2="564.0" y2="65.93333333333334" stroke="#8a8a8a" stroke-width="0.8"/>
<line x1="367.6" y1="114.46666666666667" x2="369.1" y2="114.46666666666667" stroke="#8a8a8a" stroke-width="0.8"/>
<line x1="565.5" y1="114.46666666666667" x2="564.0" y2="114.46666666666667" stroke="#8a8a8a" stroke-width="0.8"/>
<line x1="367.6" y1="95.1" x2="430" y2="95.1" stroke="#ec1a22" stroke-width="1.5" stroke-dasharray="2.8,1.4"/>
<line x1="470" y1="95.1" x2="565.5" y2="95.1" stroke="#ec1a22" stroke-width="1.5" stroke-dasharray="2.8,1.4"/>
<text x="450.3" y="99.508" font-size="10.3" text-anchor="middle" font-family="Liberation Sans, sans-serif" fill="#ec1a22" stroke="#ec1a22" stroke-width="0.18">-3 dB</text>
<polyline points="367.6,68.0 375.0,70.3 383.3,72.7 391.0,75.6 399.4,78.3 405.0,79.0 411.0,79.2 418.0,79.3 425.0,79.5 436.0,79.6 448.0,80.0 460.0,80.2 480.0,80.5 500.0,80.7 520.0,81.0 540.0,82.0 565.5,83.2" fill="none" stroke="#1a1a1a" stroke-width="1.5"/>
<circle cx="367.3" cy="65.7" r="2.15" fill="none" stroke="#1c1cc4" stroke-width="1.15"/>
<circle cx="375.3" cy="58.4" r="2.15" fill="none" stroke="#1c1cc4" stroke-width="1.15"/>
<circle cx="383.3" cy="70.5" r="2.15" fill="none" stroke="#1c1cc4" stroke-width="1.15"/>
<circle cx="391.4" cy="88.3" r="2.15" fill="none" stroke="#1c1cc4" stroke-width="1.15"/>
<circle cx="399.4" cy="90.7" r="2.15" fill="none" stroke="#1c1cc4" stroke-width="1.15"/>
<circle cx="407.4" cy="83.9" r="2.15" fill="none" stroke="#1c1cc4" stroke-width="1.15"/>
<circle cx="415.7" cy="79.8" r="2.15" fill="none" stroke="#1c1cc4" stroke-width="1.15"/>
<circle cx="423.7" cy="74.3" r="2.15" fill="none" stroke="#1c1cc4" stroke-width="1.15"/>
<circle cx="431.7" cy="82.7" r="2.15" fill="none" stroke="#1c1cc4" stroke-width="1.15"/>
<circle cx="440.0" cy="75.1" r="2.15" fill="none" stroke="#1c1cc4" stroke-width="1.15"/>
<circle cx="448.0" cy="77.0" r="2.15" fill="none" stroke="#1c1cc4" stroke-width="1.15"/>
<circle cx="456.0" cy="82.5" r="2.15" fill="none" stroke="#1c1cc4" stroke-width="1.15"/>
<circle cx="464.2" cy="77.1" r="2.15" fill="none" stroke="#1c1cc4" stroke-width="1.15"/>
<circle cx="472.2" cy="83.1" r="2.15" fill="none" stroke="#1c1cc4" stroke-width="1.15"/>
<circle cx="480.3" cy="76.6" r="2.15" fill="none" stroke="#1c1cc4" stroke-width="1.15"/>
<circle cx="488.5" cy="73.7" r="2.15" fill="none" stroke="#1c1cc4" stroke-width="1.15"/>
<circle cx="496.5" cy="81.4" r="2.15" fill="none" stroke="#1c1cc4" stroke-width="1.15"/>
<circle cx="504.6" cy="73.6" r="2.15" fill="none" stroke="#1c1cc4" stroke-width="1.15"/>
<circle cx="512.8" cy="80.4" r="2.15" fill="none" stroke="#1c1cc4" stroke-width="1.15"/>
<circle cx="520.8" cy="77.2" r="2.15" fill="none" stroke="#1c1cc4" stroke-width="1.15"/>
<circle cx="528.9" cy="76.6" r="2.15" fill="none" stroke="#1c1cc4" stroke-width="1.15"/>
<circle cx="536.9" cy="78.0" r="2.15" fill="none" stroke="#1c1cc4" stroke-width="1.15"/>
<circle cx="545.1" cy="82.9" r="2.15" fill="none" stroke="#1c1cc4" stroke-width="1.15"/>
<circle cx="553.2" cy="81.6" r="2.15" fill="none" stroke="#1c1cc4" stroke-width="1.15"/>
<circle cx="561.4" cy="84.3" r="2.15" fill="none" stroke="#1c1cc4" stroke-width="1.15"/>
<circle cx="499.2" cy="31.8" r="2.4" fill="none" stroke="#1a1acc" stroke-width="1.3"/>
<text x="512.0" y="36.199999999999996" font-size="10.6" text-anchor="start" font-family="Liberation Sans, sans-serif"  stroke="#000" stroke-width="0.18">Measured</text>
<line x1="491" y1="43.7" x2="506" y2="43.7" stroke="#111" stroke-width="2"/>
<text x="510.2" y="48.8" font-size="10.6" text-anchor="start" font-family="Liberation Sans, sans-serif"  stroke="#000" stroke-width="0.18">Calculated</text>
<text x="363.4" y="21.299999999999997" font-size="11" text-anchor="end" font-family="Liberation Sans, sans-serif"  stroke="#000" stroke-width="0.18">5</text>
<text x="363.4" y="69.83333333333334" font-size="11" text-anchor="end" font-family="Liberation Sans, sans-serif"  stroke="#000" stroke-width="0.18">0</text>
<text x="363.4" y="118.36666666666667" font-size="11" text-anchor="end" font-family="Liberation Sans, sans-serif"  stroke="#000" stroke-width="0.18">-5</text>
<text x="363.4" y="166.9" font-size="11" text-anchor="end" font-family="Liberation Sans, sans-serif"  stroke="#000" stroke-width="0.18">-10</text>
<text x="404.5" y="179" font-size="11" text-anchor="middle" font-family="Liberation Sans, sans-serif"  stroke="#000" stroke-width="0.18">10</text>
<text x="444.6" y="179" font-size="11" text-anchor="middle" font-family="Liberation Sans, sans-serif"  stroke="#000" stroke-width="0.18">20</text>
<text x="484.7" y="179" font-size="11" text-anchor="middle" font-family="Liberation Sans, sans-serif"  stroke="#000" stroke-width="0.18">30</text>
<text x="524.8" y="179" font-size="11" text-anchor="middle" font-family="Liberation Sans, sans-serif"  stroke="#000" stroke-width="0.18">40</text>
<text x="564.9" y="179" font-size="11" text-anchor="middle" font-family="Liberation Sans, sans-serif"  stroke="#000" stroke-width="0.18">50</text>
<text x="466.5" y="194.8" font-size="12" text-anchor="middle" font-family="Liberation Sans, sans-serif"  stroke="#000" stroke-width="0.18">Frequency (GHz)</text>
<text x="341" y="90.2" font-size="12" text-anchor="middle" font-family="Liberation Sans, sans-serif" transform="rotate(-90 341 90.2)" stroke="#000" stroke-width="0.18">EOR (dBe)</text>
<text x="459.75" y="12.399999999999999" font-size="13.7" text-anchor="middle" font-family="Liberation Serif, serif" font-weight="bold">Group I</text>
<text x="302.8" y="13.999999999999998" font-size="14.3" text-anchor="start" font-family="Liberation Sans, sans-serif" stroke="#000" stroke-width="0.05">(c)</text>
<rect x="367.5" y="220.2" width="198.0" height="145.8" fill="none" stroke="#8a8a8a" stroke-width="1"/>
<line x1="404.5" y1="366" x2="404.5" y2="364.5" stroke="#8a8a8a" stroke-width="0.8"/>
<line x1="404.5" y1="220.2" x2="404.5" y2="221.7" stroke="#8a8a8a" stroke-width="0.8"/>
<line x1="444.6" y1="366" x2="444.6" y2="364.5" stroke="#8a8a8a" stroke-width="0.8"/>
<line x1="444.6" y1="220.2" x2="444.6" y2="221.7" stroke="#8a8a8a" stroke-width="0.8"/>
<line x1="484.7" y1="366" x2="484.7" y2="364.5" stroke="#8a8a8a" stroke-width="0.8"/>
<line x1="484.7" y1="220.2" x2="484.7" y2="221.7" stroke="#8a8a8a" stroke-width="0.8"/>
<line x1="524.8" y1="366" x2="524.8" y2="364.5" stroke="#8a8a8a" stroke-width="0.8"/>
<line x1="524.8" y1="220.2" x2="524.8" y2="221.7" stroke="#8a8a8a" stroke-width="0.8"/>
<line x1="367.5" y1="268.8" x2="369.0" y2="268.8" stroke="#8a8a8a" stroke-width="0.8"/>
<line x1="565.5" y1="268.8" x2="564.0" y2="268.8" stroke="#8a8a8a" stroke-width="0.8"/>
<line x1="367.5" y1="317.4" x2="369.0" y2="317.4" stroke="#8a8a8a" stroke-width="0.8"/>
<line x1="565.5" y1="317.4" x2="564.0" y2="317.4" stroke="#8a8a8a" stroke-width="0.8"/>
<line x1="367.5" y1="298" x2="421" y2="298" stroke="#ec1a22" stroke-width="1.5" stroke-dasharray="2.8,1.4"/>
<line x1="462" y1="298" x2="565.5" y2="298" stroke="#ec1a22" stroke-width="1.5" stroke-dasharray="2.8,1.4"/>
<text x="441" y="302.012" font-size="9.2" text-anchor="middle" font-family="Liberation Sans, sans-serif" fill="#ec1a22" stroke="#ec1a22" stroke-width="0.18">-3 dB</text>
<polyline points="367.6,270.1 390.0,271.2 417.0,273.9 440.0,275.2 470.0,277.2 500.0,278.6 530.0,280.2 565.5,282.5" fill="none" stroke="#1a1a1a" stroke-width="1.5"/>
<circle cx="367.3" cy="268.6" r="2.15" fill="none" stroke="#1c1cc4" stroke-width="1.15"/>
<circle cx="375.3" cy="273.0" r="2.15" fill="none" stroke="#1c1cc4" stroke-width="1.15"/>
<circle cx="383.3" cy="272.4" r="2.15" fill="none" stroke="#1c1cc4" stroke-width="1.15"/>
<circle cx="391.4" cy="278.5" r="2.15" fill="none" stroke="#1c1cc4" stroke-width="1.15"/>
<circle cx="399.4" cy="278.7" r="2.15" fill="none" stroke="#1c1cc4" stroke-width="1.15"/>
<circle cx="407.4" cy="279.3" r="2.15" fill="none" stroke="#1c1cc4" stroke-width="1.15"/>
<circle cx="415.7" cy="279.3" r="2.15" fill="none" stroke="#1c1cc4" stroke-width="1.15"/>
<circle cx="423.7" cy="281.6" r="2.15" fill="none" stroke="#1c1cc4" stroke-width="1.15"/>
<circle cx="431.7" cy="278.1" r="2.15" fill="none" stroke="#1c1cc4" stroke-width="1.15"/>
<circle cx="440.0" cy="279.5" r="2.15" fill="none" stroke="#1c1cc4" stroke-width="1.15"/>
<circle cx="448.0" cy="271.4" r="2.15" fill="none" stroke="#1c1cc4" stroke-width="1.15"/>
<circle cx="456.0" cy="277.5" r="2.15" fill="none" stroke="#1c1cc4" stroke-width="1.15"/>
<circle cx="464.2" cy="282.0" r="2.15" fill="none" stroke="#1c1cc4" stroke-width="1.15"/>
<circle cx="472.2" cy="279.8" r="2.15" fill="none" stroke="#1c1cc4" stroke-width="1.15"/>
<circle cx="480.3" cy="273.9" r="2.15" fill="none" stroke="#1c1cc4" stroke-width="1.15"/>
<circle cx="488.5" cy="273.5" r="2.15" fill="none" stroke="#1c1cc4" stroke-width="1.15"/>
<circle cx="496.5" cy="282.9" r="2.15" fill="none" stroke="#1c1cc4" stroke-width="1.15"/>
<circle cx="504.6" cy="277.2" r="2.15" fill="none" stroke="#1c1cc4" stroke-width="1.15"/>
<circle cx="512.8" cy="283.3" r="2.15" fill="none" stroke="#1c1cc4" stroke-width="1.15"/>
<circle cx="520.8" cy="277.0" r="2.15" fill="none" stroke="#1c1cc4" stroke-width="1.15"/>
<circle cx="528.9" cy="282.5" r="2.15" fill="none" stroke="#1c1cc4" stroke-width="1.15"/>
<circle cx="536.9" cy="277.0" r="2.15" fill="none" stroke="#1c1cc4" stroke-width="1.15"/>
<circle cx="545.1" cy="283.5" r="2.15" fill="none" stroke="#1c1cc4" stroke-width="1.15"/>
<circle cx="553.2" cy="283.7" r="2.15" fill="none" stroke="#1c1cc4" stroke-width="1.15"/>
<circle cx="561.4" cy="279.3" r="2.15" fill="none" stroke="#1c1cc4" stroke-width="1.15"/>
<circle cx="492.2" cy="235.20000000000002" r="2.4" fill="none" stroke="#1a1acc" stroke-width="1.3"/>
<text x="505.0" y="239.60000000000002" font-size="10.6" text-anchor="start" font-family="Liberation Sans, sans-serif"  stroke="#000" stroke-width="0.18">Measured</text>
<line x1="484" y1="247.10000000000002" x2="499" y2="247.10000000000002" stroke="#111" stroke-width="2"/>
<text x="503.2" y="252.20000000000002" font-size="10.6" text-anchor="start" font-family="Liberation Sans, sans-serif"  stroke="#000" stroke-width="0.18">Calculated</text>
<text x="363.4" y="224.1" font-size="11" text-anchor="end" font-family="Liberation Sans, sans-serif"  stroke="#000" stroke-width="0.18">5</text>
<text x="363.4" y="272.7" font-size="11" text-anchor="end" font-family="Liberation Sans, sans-serif"  stroke="#000" stroke-width="0.18">0</text>
<text x="363.4" y="321.29999999999995" font-size="11" text-anchor="end" font-family="Liberation Sans, sans-serif"  stroke="#000" stroke-width="0.18">-5</text>
<text x="363.4" y="369.9" font-size="11" text-anchor="end" font-family="Liberation Sans, sans-serif"  stroke="#000" stroke-width="0.18">-10</text>
<text x="404.5" y="382" font-size="11" text-anchor="middle" font-family="Liberation Sans, sans-serif"  stroke="#000" stroke-width="0.18">10</text>
<text x="444.6" y="382" font-size="11" text-anchor="middle" font-family="Liberation Sans, sans-serif"  stroke="#000" stroke-width="0.18">20</text>
<text x="484.7" y="382" font-size="11" text-anchor="middle" font-family="Liberation Sans, sans-serif"  stroke="#000" stroke-width="0.18">30</text>
<text x="524.8" y="382" font-size="11" text-anchor="middle" font-family="Liberation Sans, sans-serif"  stroke="#000" stroke-width="0.18">40</text>
<text x="564.9" y="382" font-size="11" text-anchor="middle" font-family="Liberation Sans, sans-serif"  stroke="#000" stroke-width="0.18">50</text>
<text x="466.5" y="397.8" font-size="12" text-anchor="middle" font-family="Liberation Sans, sans-serif"  stroke="#000" stroke-width="0.18">Frequency (GHz)</text>
<text x="341" y="293.1" font-size="12" text-anchor="middle" font-family="Liberation Sans, sans-serif" transform="rotate(-90 341 293.1)" stroke="#000" stroke-width="0.18">EOR (dBe)</text>
<text x="459.75" y="215.2" font-size="13.7" text-anchor="middle" font-family="Liberation Serif, serif" font-weight="bold">Group II</text>
<text x="302.8" y="214.89999999999998" font-size="14.3" text-anchor="start" font-family="Liberation Sans, sans-serif" stroke="#000" stroke-width="0.05">(d)</text>
</svg></body></html>
